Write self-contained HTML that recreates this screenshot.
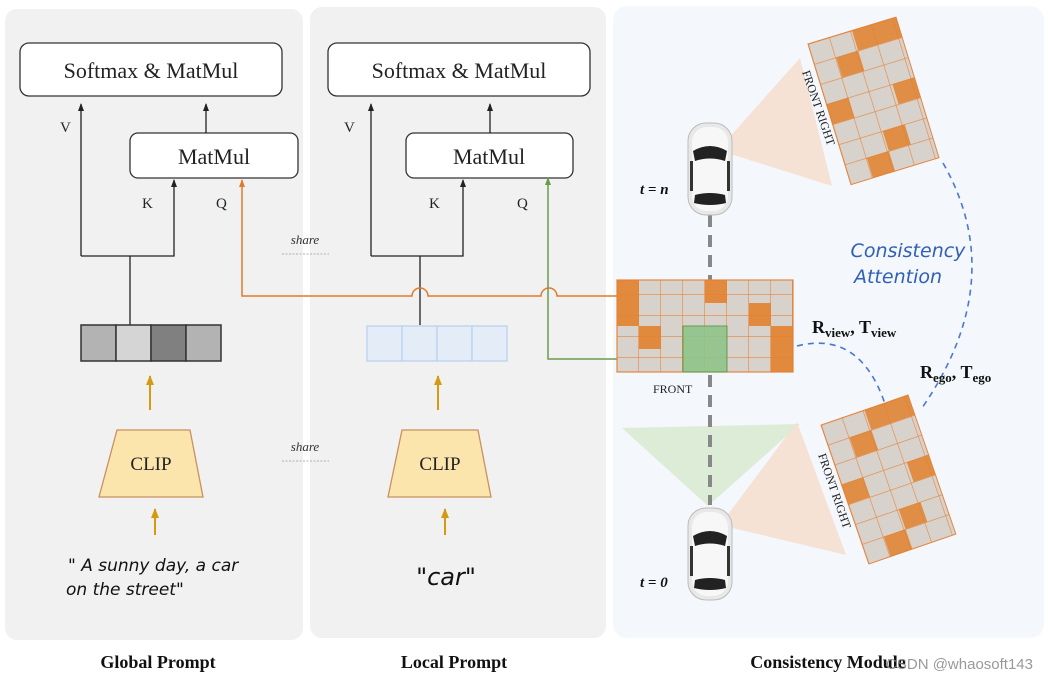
<!DOCTYPE html>
<html><head><meta charset="utf-8"><style>
html,body{margin:0;padding:0;background:#fff;}
svg{display:block;}
.s{font-family:"Liberation Serif",serif;}
</style></head><body>
<svg width="1048" height="681" viewBox="0 0 1048 681" xmlns="http://www.w3.org/2000/svg">
<defs>
<marker id="ak" markerWidth="8" markerHeight="8" refX="7" refY="4" orient="auto" markerUnits="userSpaceOnUse" viewBox="0 0 8 8"><path d="M0,1 L8,4 L0,7 Z" fill="#222"/></marker>
<marker id="ao" markerWidth="8" markerHeight="8" refX="7" refY="4" orient="auto" markerUnits="userSpaceOnUse" viewBox="0 0 8 8"><path d="M0,1 L8,4 L0,7 Z" fill="#e07b2a"/></marker>
<marker id="ag" markerWidth="8" markerHeight="8" refX="7" refY="4" orient="auto" markerUnits="userSpaceOnUse" viewBox="0 0 8 8"><path d="M0,1 L8,4 L0,7 Z" fill="#6b9a4e"/></marker>
<marker id="ay" markerWidth="10" markerHeight="10" refX="9" refY="5" orient="auto" markerUnits="userSpaceOnUse" viewBox="0 0 10 10"><path d="M0,1 L10,5 L0,9 Z" fill="#d49a12"/></marker>
<g id="car">
<rect x="-22" y="-46" width="44" height="92" rx="18" fill="#e8e8e8" stroke="#bbb"/>
<rect x="-18" y="-42" width="36" height="84" rx="15" fill="#f7f7f7"/>
<path d="M-17,-18 Q0,-28 17,-18 L15,-8 Q0,-13 -15,-8 Z" fill="#222"/>
<path d="M-15,26 Q0,22 15,26 L16,34 Q0,38 -16,34 Z" fill="#222"/>
<rect x="-20" y="-8" width="3" height="30" fill="#333"/>
<rect x="17" y="-8" width="3" height="30" fill="#333"/>
</g>
<pattern id="gr" width="22" height="21" patternUnits="userSpaceOnUse"><rect width="22" height="21" fill="#d8d2cc"/><path d="M0,0 H22 M0,0 V21" stroke="#e6853e" stroke-width="1.2"/></pattern>
</defs>

<rect x="5" y="9" width="298" height="631" rx="12" fill="#f1f1f1"/>
<rect x="310" y="7" width="296" height="631" rx="12" fill="#f1f1f1"/>
<rect x="613" y="6" width="431" height="632" rx="14" fill="#f4f7fc"/>

<rect x="20" y="43" width="262" height="53" rx="9" fill="#fff" stroke="#333" stroke-width="1.3"/>
<text x="151" y="78" class="s" font-size="22" text-anchor="middle" fill="#222">Softmax &amp; MatMul</text>
<rect x="130" y="133" width="168" height="45" rx="8" fill="#fff" stroke="#333" stroke-width="1.3"/>
<text x="214" y="164" class="s" font-size="22" text-anchor="middle" fill="#222">MatMul</text>
<g stroke="#222" stroke-width="1.3" fill="none">
<path d="M81,256 V104" marker-end="url(#ak)"/>
<path d="M206,133 V104" marker-end="url(#ak)"/>
<path d="M81,256 H174 V180" marker-end="url(#ak)"/>
<path d="M130,256 V325"/>
</g>
<text x="60" y="132" class="s" font-size="15" fill="#222">V</text>
<text x="142" y="208" class="s" font-size="15" fill="#222">K</text>
<text x="216" y="208" class="s" font-size="15" fill="#222">Q</text>
<g stroke="#333" stroke-width="1.5">
<rect x="81" y="325" width="35" height="36" fill="#b3b3b3"/>
<rect x="116" y="325" width="35" height="36" fill="#d5d5d5"/>
<rect x="151" y="325" width="35" height="36" fill="#808080"/>
<rect x="186" y="325" width="35" height="36" fill="#b3b3b3"/>
</g>
<path d="M150,410 V376" stroke="#d49a12" stroke-width="2" marker-end="url(#ay)"/>
<path d="M117,430 H190 L203,497 H99 Z" fill="#fbe5ad" stroke="#c99060" stroke-width="1.3"/>
<text x="151" y="470" class="s" font-size="19" text-anchor="middle" fill="#222">CLIP</text>
<path d="M155,535 V509" stroke="#d49a12" stroke-width="2" marker-end="url(#ay)"/>
<text x="68" y="571" font-family="'DejaVu Sans',sans-serif" font-style="italic" font-size="17" fill="#111">" A sunny day, a car</text>
<text x="66" y="595" font-family="'DejaVu Sans',sans-serif" font-style="italic" font-size="17" fill="#111">on the street"</text>

<text x="305" y="244" class="s" font-style="italic" font-size="13" text-anchor="middle" fill="#333">share</text>
<path d="M282,254 H329" stroke="#999" stroke-width="0.8" stroke-dasharray="2,1.5"/>
<text x="305" y="451" class="s" font-style="italic" font-size="13" text-anchor="middle" fill="#333">share</text>
<path d="M282,461 H329" stroke="#999" stroke-width="0.8" stroke-dasharray="2,1.5"/>

<rect x="328" y="43" width="262" height="53" rx="9" fill="#fff" stroke="#333" stroke-width="1.3"/>
<text x="459" y="78" class="s" font-size="22" text-anchor="middle" fill="#222">Softmax &amp; MatMul</text>
<rect x="406" y="133" width="167" height="45" rx="8" fill="#fff" stroke="#333" stroke-width="1.3"/>
<text x="489" y="164" class="s" font-size="22" text-anchor="middle" fill="#222">MatMul</text>
<g stroke="#222" stroke-width="1.3" fill="none">
<path d="M371,256 V104" marker-end="url(#ak)"/>
<path d="M490,133 V104" marker-end="url(#ak)"/>
<path d="M371,256 H463 V180" marker-end="url(#ak)"/>
<path d="M420,256 V325"/>
</g>
<text x="344" y="132" class="s" font-size="15" fill="#222">V</text>
<text x="429" y="208" class="s" font-size="15" fill="#222">K</text>
<text x="517" y="208" class="s" font-size="15" fill="#222">Q</text>
<g stroke="#b7d3ef" stroke-width="1.3" fill="#e4edf7">
<rect x="367" y="326" width="35" height="35"/>
<rect x="402" y="326" width="35" height="35"/>
<rect x="437" y="326" width="35" height="35"/>
<rect x="472" y="326" width="35" height="35"/>
</g>
<path d="M438,410 V376" stroke="#d49a12" stroke-width="2" marker-end="url(#ay)"/>
<path d="M402,430 H478 L491,497 H388 Z" fill="#fbe5ad" stroke="#c99060" stroke-width="1.3"/>
<text x="440" y="470" class="s" font-size="19" text-anchor="middle" fill="#222">CLIP</text>
<path d="M445,535 V509" stroke="#d49a12" stroke-width="2" marker-end="url(#ay)"/>
<text x="446" y="585" font-family="'DejaVu Sans',sans-serif" font-style="italic" font-size="24" text-anchor="middle" fill="#111">"car"</text>

<path d="M618,296 H557 A8,8 0 0 0 541,296 H428 A8,8 0 0 0 412,296 H242 V180" fill="none" stroke="#e07b2a" stroke-width="1.5" marker-end="url(#ao)"/>
<path d="M618,359 H548 V178" fill="none" stroke="#6b9a4e" stroke-width="1.5" marker-end="url(#ag)"/>

<polygon points="718,150 800,58 832,186" fill="#f5dfd0" opacity="0.9"/>
<polygon points="622,428 800,424 708,506" fill="#d9ead3" opacity="0.9"/>
<polygon points="720,525 797,422 846,555" fill="#f5dfd0" opacity="0.9"/>
<path d="M710,215 V505" stroke="#888" stroke-width="4" stroke-dasharray="12,8"/>
<use href="#car" x="710" y="169"/>
<use href="#car" x="710" y="554"/>
<text x="640" y="194" class="s" font-style="italic" font-weight="bold" font-size="15" fill="#111">t = n</text>
<text x="640" y="587" class="s" font-style="italic" font-weight="bold" font-size="15" fill="#111">t = 0</text>

<rect x="617" y="280" width="176" height="92" fill="url(#gr)" stroke="#e6853e" stroke-width="1.2"/>
<g fill="#e2822e" opacity="0.9">
<rect x="617" y="280" width="22" height="46"/>
<rect x="705" y="280" width="22" height="23"/>
<rect x="749" y="303" width="22" height="23"/>
<rect x="639" y="326" width="22" height="23"/>
<rect x="771" y="326" width="22" height="46"/>
</g>
<rect x="683" y="326" width="44" height="46" fill="#8fc489" opacity="0.9" stroke="#5a9a4a"/>
<text x="653" y="393" class="s" font-size="12" fill="#222">FRONT</text>

<g transform="translate(808,44) rotate(-17)">
<rect width="92" height="147" fill="url(#gr)" stroke="#e6853e"/>
<g fill="#e2822e" opacity="0.85">
<rect x="46" y="0" width="46" height="21"/><rect x="23" y="21" width="23" height="21"/>
<rect x="0" y="63" width="23" height="21"/><rect x="69" y="63" width="23" height="21"/>
<rect x="46" y="105" width="23" height="21"/><rect x="23" y="126" width="23" height="21"/>
</g>
</g>
<text transform="translate(802,72) rotate(71)" class="s" font-size="12" fill="#222">FRONT RIGHT</text>
<g transform="translate(821,425) rotate(-19)">
<rect width="92" height="147" fill="url(#gr)" stroke="#e6853e"/>
<g fill="#e2822e" opacity="0.85">
<rect x="46" y="0" width="46" height="21"/><rect x="23" y="21" width="23" height="21"/>
<rect x="0" y="63" width="23" height="21"/><rect x="69" y="63" width="23" height="21"/>
<rect x="46" y="105" width="23" height="21"/><rect x="23" y="126" width="23" height="21"/>
</g>
</g>
<text transform="translate(818,455) rotate(71)" class="s" font-size="12" fill="#222">FRONT RIGHT</text>

<path d="M943,163 Q1010,280 922,408" fill="none" stroke="#4a78d0" stroke-width="1.6" stroke-dasharray="6,5"/>
<path d="M797,346 Q860,330 885,404" fill="none" stroke="#4a78d0" stroke-width="1.6" stroke-dasharray="6,5"/>
<text x="908" y="257" font-family="'DejaVu Sans',sans-serif" font-style="italic" font-size="19" text-anchor="middle" fill="#2f5fb8">Consistency</text>
<text x="898" y="283" font-family="'DejaVu Sans',sans-serif" font-style="italic" font-size="19" text-anchor="middle" fill="#2f5fb8">Attention</text>
<text x="812" y="333" class="s" font-weight="bold" font-size="18" fill="#111">R<tspan font-size="13" dy="4">view</tspan><tspan dy="-4">, T</tspan><tspan font-size="13" dy="4">view</tspan></text>
<text x="920" y="378" class="s" font-weight="bold" font-size="18" fill="#111">R<tspan font-size="13" dy="4">ego</tspan><tspan dy="-4">, T</tspan><tspan font-size="13" dy="4">ego</tspan></text>

<text x="158" y="668" class="s" font-weight="bold" font-size="18" text-anchor="middle" fill="#111">Global Prompt</text>
<text x="454" y="668" class="s" font-weight="bold" font-size="18" text-anchor="middle" fill="#111">Local Prompt</text>
<text x="828" y="668" class="s" font-weight="bold" font-size="18" text-anchor="middle" fill="#111">Consistency Module</text>
<text x="1033" y="669" font-family="'Liberation Sans',sans-serif" font-size="15" text-anchor="end" fill="#888" opacity="0.85">CSDN @whaosoft143</text>
</svg>
</body></html>
